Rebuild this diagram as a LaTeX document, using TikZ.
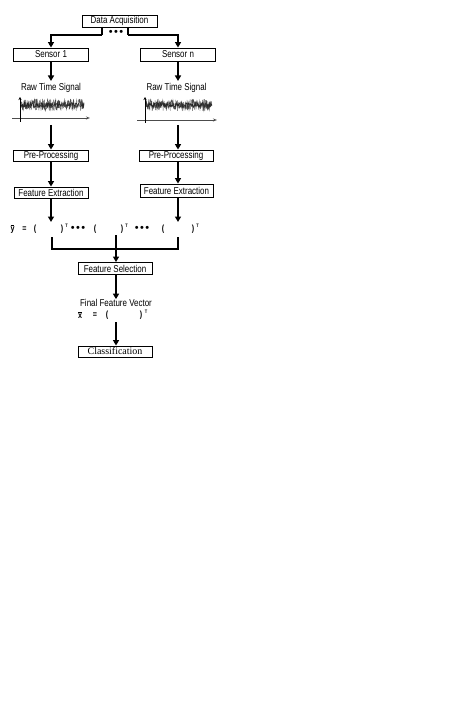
\documentclass[tikz,border=0pt]{standalone}
\usepackage{fontspec}
\setmainfont{Liberation Sans}[FakeStretch=0.8]
\newfontfamily\serifcls{Liberation Serif}
\newfontfamily\dotfont{Liberation Sans}
\usetikzlibrary{arrows.meta,calc}
\tikzset{
  boxnode/.style={draw, line width=0.9bp, inner sep=0pt, minimum width=75bp, minimum height=12bp, font=\fontsize{10}{11}\selectfont},
  lbl/.style={inner sep=0pt, font=\fontsize{10}{11}\selectfont},
  vec/.style={inner sep=0pt, font=\bfseries\fontsize{9}{9}\selectfont},
  dots/.style={inner sep=0pt, font=\dotfont\fontsize{11}{11}\selectfont},
  supT/.style={inner sep=0pt, font=\bfseries\fontsize{5}{5}\selectfont},
  arr/.style={line width=2bp, -{Triangle[width=6bp,length=5.5bp]}},
  ln/.style={line width=2bp},
  axisv/.style={line width=0.7bp, -{Stealth[width=3bp,length=3bp]}},
  axish/.style={line width=0.7bp, gray!60!black, -{Stealth[width=3bp,length=4bp,open]}},
  noise/.style={line width=0.35bp, gray!60!black},
  noisedark/.style={line width=0.4bp, black!85}
}
\newcommand{\threedots}{\textbullet\hspace{1.5pt}\textbullet\hspace{1.5pt}\textbullet}
\begin{document}
\begin{tikzpicture}[x=1bp,y=-1bp]
\useasboundingbox (0,0) rectangle (474,712);
% boxes
\node[boxnode] (da) at (119.5,21) {Data Acquisition};
\node[boxnode, minimum height=13bp] (s1) at (51,54.5) {Sensor 1};
\node[boxnode, minimum height=13bp] (sn) at (178,54.5) {Sensor n};
\node[lbl] (r1) at (51,88) {Raw Time Signal};
\node[lbl] (rn) at (176.5,88) {Raw Time Signal};
\node[boxnode, minimum height=11bp] (p1) at (51,155.5) {Pre-Processing};
\node[boxnode, minimum height=11bp, minimum width=74bp] (pn) at (176,155.5) {Pre-Processing};
\node[boxnode, minimum height=11bp, minimum width=74bp] (f1) at (51,192.5) {Feature Extraction};
\node[boxnode, minimum height=13bp, minimum width=73bp] (fn) at (176.5,190.5) {Feature Extraction};
\node[boxnode, minimum width=74bp] (fs) at (115,268.5) {Feature Selection};
\node[lbl] (ffv) at (116,303) {Final Feature Vector};
\node[boxnode, minimum height=11bp, minimum width=74bp, font=\serifcls\fontsize{10}{11}\selectfont] (cl) at (115,351.5) {Classification};

% data acquisition split
\coordinate (dal) at (102,27);
\coordinate (dar) at (128,27);
\coordinate (dalc) at (102,35);
\coordinate (darc) at (128,35);
\draw[ln] (dal) -- (dalc);
\draw[arr] (dalc) -| (s1.north);
\draw[ln] (dar) -- (darc);
\draw[arr] (darc) -| (sn.north);
\node[dots] (dots0) at (116,33) {\threedots};

% sensor to raw signal
\draw[arr] (s1.south) -- (s1.south |- 0,81);
\draw[arr] (sn.south) -- (sn.south |- 0,81);

% signals
\pgfmathsetseed{11}
\coordinate (o1) at (20,118);
\coordinate (v1) at (20,97);
\coordinate (h1a) at (12,118);
\coordinate (h1b) at (90,118);
\draw[axish] (h1a) -- (h1b);
\draw[line width=0.7bp] (20,122) -- (o1);
\draw[axisv] (o1) -- (v1);
\draw[noise] plot[domain=21:84, samples=260] (\x,{105+6*rand});
\draw[noisedark] plot[domain=21:84, samples=180] (\x,{105+2.5*rand});

\coordinate (on) at (145,120);
\coordinate (vn) at (145,97);
\coordinate (hna) at (137,120);
\coordinate (hnb) at (217,120);
\draw[axish] (hna) -- (hnb);
\draw[line width=0.7bp] (145,123) -- (on);
\draw[axisv] (on) -- (vn);
\draw[noise] plot[domain=146:212, samples=260] (\x,{105+6*rand});
\draw[noisedark] plot[domain=146:212, samples=180] (\x,{105+2.5*rand});

% signal to pre-processing
\coordinate (sig1) at (51,125);
\coordinate (sign) at (178,125);
\draw[arr] (sig1) -- (sig1 |- p1.north);
\draw[arr] (sign) -- (sign |- pn.north);
\draw[arr] (p1.south) -- (p1.south |- f1.north);
\draw[arr] (sign |- pn.south) -- (sign |- fn.north);

% feature extraction to vector
\coordinate (fe1) at (51,222);
\coordinate (fen) at (178,222);
\draw[arr] (f1.south -| fe1) -- (fe1);
\draw[arr] (fn.south -| fen) -- (fen);

% vector y
\node[vec] (ybar) at (12.5,229) {$\overline{\hbox{y}}$};
\node[vec] (eq1) at (24.5,229) {=};
\node[vec] (lp1) at (35,229) {(};
\node[vec] (rp1) at (62,229) {)};
\node[supT] (t1) at (66.5,225.5) {T};
\node[dots] (d1) at (78,229) {\threedots};
\node[vec] (lp2) at (95,229) {(};
\node[vec] (rp2) at (122,229) {)};
\node[supT] (t2) at (126.5,225.5) {T};
\node[dots] (d2) at (142,229) {\threedots};
\node[vec] (lp3) at (163,229) {(};
\node[vec] (rp3) at (193,229) {)};
\node[supT] (t3) at (197.5,225.5) {T};

% bracket
\coordinate (bl) at (52,237);
\coordinate (blb) at (52,249);
\coordinate (brb) at (178,249);
\coordinate (br) at (178,237);
\coordinate (bc) at (116,235);
\draw[ln] (bl) -- (blb) -- (brb) -- (br);
\draw[arr] (bc) -- (bc |- fs.north);

% final vector
\draw[arr] (fs.south -| ffv) -- (ffv.north);
\node[vec] (xbar) at (80,315) {$\overline{\hbox{x}}$};
\node[vec] (eq2) at (95,315) {=};
\node[vec] (lp4) at (107,315) {(};
\node[vec] (rp4) at (141,315) {)};
\node[supT] (t4) at (146,311.5) {T};
\coordinate (xv) at (116,322);
\draw[arr] (xv) -- (xv |- cl.north);
\end{tikzpicture}
\end{document}
